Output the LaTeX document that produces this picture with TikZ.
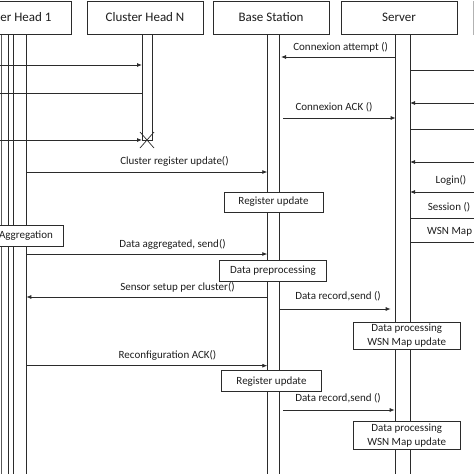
\documentclass[tikz,border=0pt]{standalone}
\usepackage{fontspec}
\setmainfont{Carlito}
\usetikzlibrary{arrows.meta}
\definecolor{linec}{HTML}{2B2B2B}
\definecolor{textc}{HTML}{1E1E1E}
\begin{document}
\begin{tikzpicture}[x=1pt,y=-1pt,
  hdr/.style={draw=linec, line width=0.8pt, fill=white, minimum width=116pt, minimum height=33pt, inner sep=0pt, outer sep=0pt, font=\fontsize{13}{15}\selectfont, text=textc},
  bar/.style={draw=linec, line width=0.8pt, fill=white, inner sep=0pt, outer sep=0pt},
  actbox/.style={draw=linec, line width=0.8pt, fill=white, inner sep=0pt, outer sep=0pt, font=\fontsize{11}{13.5}\selectfont, text=textc, align=center},
  lbl/.style={inner sep=0pt, font=\fontsize{11}{13}\selectfont, text=textc},
  msg/.style={draw=linec, line width=0.8pt, -{Latex[length=5pt,width=4pt]}},
  plain/.style={draw=linec, line width=0.8pt}]
\useasboundingbox (0,0) rectangle (474,474);
\fill[white] (0,0) rectangle (474,474);
% off-picture ends
\coordinate (offL) at (-20,0);
\coordinate (offR) at (494,0);
% lifeline bars
\node[bar, minimum width=6.5pt, minimum height=446pt] (ch0bar) at (4.75,257) {};
\draw[line width=1.4pt, gray!70!black] (ch0bar.north west) -- (ch0bar.south west);
\node[bar, minimum width=12.6pt, minimum height=446pt] (ch1bar) at (20,257) {};
\node[bar, minimum width=10.3pt, minimum height=106pt] (chNbar) at (147.15,87) {};
\node[bar, minimum width=11.7pt, minimum height=446pt] (bsbar) at (273.15,257) {};
\node[bar, minimum width=14.3pt, minimum height=446pt] (srvbar) at (402.85,257) {};
% headers
\node[hdr] (ch1) at (13,17.5) {Cluster Head 1};
\node[hdr] (chN) at (145,17.5) {Cluster Head N};
\node[hdr] (bs) at (271,17.5) {Base Station};
\node[hdr] (srv) at (399,17.5) {Server};
\node[hdr, draw=gray!60] (next) at (531,17.5) {};
% left incoming messages
\draw[msg] (offL |- 0,65) -- (chNbar.west |- 0,65);
\draw[plain] (chNbar.west |- 0,93) -- (offL |- 0,93);
\draw[msg] (offL |- 0,140) -- (chNbar.west |- 0,140);
\coordinate (xmark) at (147,140);
\draw[plain, line width=0.7pt] ([shift={(-7,-8)}]xmark) -- ([shift={(7,8)}]xmark);
\draw[plain, line width=0.7pt] ([shift={(-7,8)}]xmark) -- ([shift={(7,-8)}]xmark);
% server side
\node[lbl] (l1) at (340.7,47) {Connexion attempt ()};
\draw[msg, shorten >=2pt] (srvbar.west |- 0,57) -- (bsbar.east |- 0,57);
\draw[plain] (srvbar.east |- 0,70) -- (offR |- 0,70);
\draw[msg] (offR |- 0,103) -- (srvbar.east |- 0,103);
\node[lbl] (l2) at (334,107) {Connexion ACK ()};
\draw[msg, shorten <=4pt] (bsbar.east |- 0,118) -- (srvbar.west |- 0,118);
\draw[plain] (srvbar.east |- 0,129) -- (offR |- 0,129);
\draw[msg] (offR |- 0,162) -- (srvbar.east |- 0,162);
\node[lbl] (l3) at (451,180) {Login()};
\draw[msg] (offR |- 0,192) -- (srvbar.east |- 0,192);
\node[lbl] (l4) at (449,207.3) {Session ()};
\draw[plain] (srvbar.east |- 0,218) -- (offR |- 0,218);
\node[lbl, anchor=west] (l5) at (427,231.5) {WSN Map};
\draw[plain] (srvbar.east |- 0,242.3) -- (offR |- 0,242.3);
% cluster head 1 / base station
\node[lbl] (l6) at (174.5,161.7) {Cluster register update()};
\draw[msg] (ch1bar.east |- 0,172) -- (bsbar.west |- 0,172);
\node[actbox, minimum width=99pt, minimum height=20pt] (ru1) at (273.5,202) {Register update};
\node[actbox, minimum width=74.6pt, minimum height=21pt] (agg) at (26,235.5) {Aggregation};
\node[lbl] (l7) at (172.5,244) {Data aggregated, send()};
\draw[msg] (ch1bar.east |- 0,254) -- (bsbar.west |- 0,254);
\node[actbox, minimum width=107.4pt, minimum height=20.3pt] (dp) at (273,270.8) {Data preprocessing};
\node[lbl] (l8) at (177.5,287.3) {Sensor setup per cluster()};
\draw[msg] (bsbar.west |- 0,297) -- (ch1bar.east |- 0,297);
\node[lbl] (l9) at (338,296) {Data record,send ()};
\draw[msg, shorten >=5pt] (bsbar.east |- 0,309) -- (srvbar.west |- 0,309);
\node[actbox, minimum width=106.7pt, minimum height=26.7pt] (proc1) at (406.7,335.7) {Data processing\\WSN Map update};
\node[lbl] (l10) at (167.5,355) {Reconfiguration ACK()};
\draw[msg] (ch1bar.east |- 0,365.7) -- (bsbar.west |- 0,365.7);
\node[actbox, minimum width=99.6pt, minimum height=21pt] (ru2) at (271.5,381.2) {Register update};
\node[lbl] (l11) at (338,398.3) {Data record,send ()};
\draw[msg, shorten <=4pt, shorten >=1pt] (bsbar.east |- 0,410) -- (srvbar.west |- 0,410);
\node[actbox, minimum width=106.7pt, minimum height=27.6pt] (proc2) at (406.7,435.5) {Data processing\\WSN Map update};
\end{tikzpicture}
\end{document}
